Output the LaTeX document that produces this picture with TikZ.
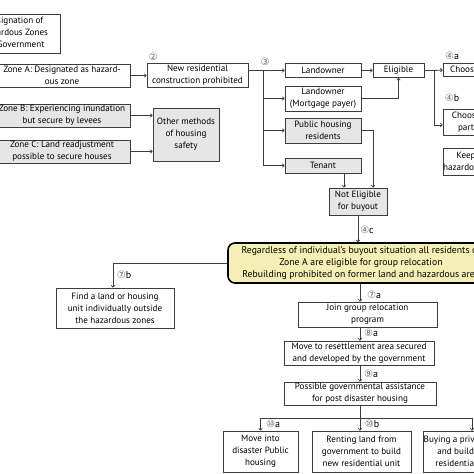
\documentclass[tikz,border=0pt]{standalone}
\usepackage{fontspec}
\setmainfont{PT Sans}
\newfontfamily\circfont{DejaVu Sans}
\usepackage{xcolor}
\usetikzlibrary{arrows.meta}
\definecolor{boxgray}{HTML}{E6E6E6}
\definecolor{noteyellow}{HTML}{F3EFB5}
\definecolor{linegray}{HTML}{3C3C3C}
\newcommand{\stepno}[2]{{\color{black!55}\circfont #1}#2}

\begin{document}
\begin{tikzpicture}[x=1pt,y=-1pt,
  font=\fontsize{9.1}{12}\selectfont,
  box/.style={draw=linegray, line width=0.8pt, fill=white, align=center, inner sep=0pt},
  greybox/.style={box, fill=boxgray},
  notice/.style={draw=black, line width=1.6pt, rounded corners=7pt, fill=noteyellow, align=center, inner sep=0pt, font=\fontsize{9.7}{12}\selectfont},
  link/.style={draw=linegray, line width=0.8pt, -{To[length=2.5pt,width=4pt]}},
  plain/.style={draw=linegray, line width=0.8pt},
  stepnum/.style={inner sep=0pt, font=\fontsize{10}{10}\selectfont}]
\useasboundingbox (0,0) rectangle (474,474);
\clip (0,0) rectangle (474,474);

% Zones
\node[box, minimum width=90pt, minimum height=39pt] (desig) at (15,33.5) {Designation of\\Hazardous Zones\\by Government};
\node[box, minimum width=136pt, minimum height=23pt] (zoneA) at (62,75.5) {Zone A: Designated as hazard-\\ous zone};
\node[greybox, minimum width=136pt, minimum height=23pt] (zoneB) at (62,115.5) {Zone B: Experiencing inundation\\but secure by levees};
\node[greybox, minimum width=136pt, minimum height=23pt] (zoneC) at (62,151.5) {Zone C: Land readjustment\\possible to secure houses};
\node[greybox, minimum width=66pt, minimum height=53pt] (other) at (186,134.5) {Other methods\\of housing\\safety};
\node[box, minimum width=101pt, minimum height=24pt] (newres) at (197.5,75) {New residential\\construction prohibited};

% Owners and residents
\node[box, minimum width=76pt, minimum height=13.5pt] (land1) at (323,70.5) {Landowner};
\node[box, minimum width=76pt, minimum height=25pt] (land2) at (323,98.5) {Landowner\\(Mortgage payer)};
\node[greybox, minimum width=76pt, minimum height=25pt] (public) at (323,130.5) {Public housing\\residents};
\node[greybox, minimum width=76pt, minimum height=15pt] (tenant) at (323,165.5) {Tenant};
\node[box, minimum width=51pt, minimum height=14pt] (eligible) at (398.5,70.5) {Eligible};
\node[greybox, minimum width=58pt, minimum height=27pt] (noteleg) at (358,201.5) {Not Eligible\\for buyout};

% Buyout choices
\node[box, minimum width=72pt, minimum height=12.5pt] (choose4a) at (479,70) {Choose buyout};
\node[box, minimum width=72pt, minimum height=26pt] (choose4b) at (479,122) {Choose not to\\participate};
\node[box, minimum width=80pt, minimum height=27pt] (keep) at (483,161.5) {Keep living in\\hazardous zone area};

% Group relocation
\node[notice, minimum width=266pt, minimum height=40pt] (relocate) at (361,263) {Regardless of individual’s buyout situation all residents of\\Zone A are eligible for group relocation\\Rebuilding prohibited on former land and hazardous area};
\node[box, minimum width=118pt, minimum height=40pt] (find) at (115,308) {Find a land or housing\\unit individually outside\\the hazardous zones};
\node[box, minimum width=139pt, minimum height=25pt] (join) at (367.5,314.5) {Join group relocation\\program};
\node[box, minimum width=150pt, minimum height=24pt] (move) at (359,353) {Move to resettlement area secured\\and developed by the government};
\node[box, minimum width=152pt, minimum height=23pt] (possible) at (360,393.5) {Possible governmental assistance\\for post disaster housing};
\node[box, minimum width=75pt, minimum height=41pt] (moveinto) at (260.5,451.5) {Move into\\disaster Public\\housing};
\node[box, minimum width=99pt, minimum height=41pt] (renting) at (361.5,451.5) {Renting land from\\government to build\\new residential unit};
\node[box, minimum width=84pt, minimum height=41pt] (buying) at (465,451.5) {Buying a private land\\and build new\\residential unit};

% Step numbers
\node[stepnum] (n2) at (153,57) {\stepno{②}{}};
\node[stepnum] (n3) at (265,62) {\stepno{③}{}};
\node[stepnum] (n4a) at (452,56) {\stepno{④}{a}};
\node[stepnum] (n4b) at (452,98) {\stepno{④}{b}};
\node[stepnum] (n4c) at (367,230) {\stepno{④}{c}};
\node[stepnum] (n7b) at (124,275) {\stepno{⑦}{b}};
\node[stepnum] (n7a) at (374,295) {\stepno{⑦}{a}};
\node[stepnum] (n8a) at (371,333) {\stepno{⑧}{a}};
\node[stepnum] (n9a) at (371,374) {\stepno{⑨}{a}};
\node[stepnum] (n10a) at (273,424) {\stepno{⑩}{a}};
\node[stepnum] (n10b) at (372,424) {\stepno{⑩}{b}};

% Connectors
\coordinate (split3) at (263,70.5);
\coordinate (split4) at (434,70.5);
\coordinate (split10) at (360,418);
\draw[link] (zoneA.east) -- (newres.west |- zoneA.east);
\draw[link] (zoneB.east) -- (other.west |- zoneB.east);
\draw[link] (zoneC.east) -- (other.west |- zoneC.east);
\draw[plain] (newres.east |- split3) -- (split3);
\draw[link] (split3) -- (land1.west);
\draw[link] (split3 |- land2.west) -- (land2.west);
\draw[link] (split3 |- public.west) -- (public.west);
\draw[link] (split3) |- (tenant.west);
\draw[link] (land1.east) -- (eligible.west);
\draw[link] (land2.east) -| (eligible.south);
\draw[link] (public.east) -| ([xshift=15pt]noteleg.north);
\draw[link] ([xshift=-14pt]noteleg.north |- tenant.south) -- ([xshift=-14pt]noteleg.north);
\draw[plain] (eligible.east) -- (split4);
\draw[link] (split4) -- (choose4a.west);
\draw[link] (split4) |- ([yshift=-3pt]choose4b.west);
\draw[link] (noteleg.south) -- (noteleg.south |- relocate.north);
\draw[link] (relocate.west) -| ([xshift=-2pt]find.north);
\draw[link] (possible.north |- relocate.south) -- (possible.north |- join.north);
\draw[link] (possible.north |- join.south) -- (possible.north |- move.north);
\draw[link] (move.south -| possible.north) -- (possible.north);
\draw[link] (possible.south) -- (possible.south |- renting.north);
\draw[plain] (possible.south) -- (split10);
\draw[link] (split10) -| (moveinto.north);
\draw[link] (split10) -| ([xshift=7pt]buying.north);
\end{tikzpicture}
\end{document}
